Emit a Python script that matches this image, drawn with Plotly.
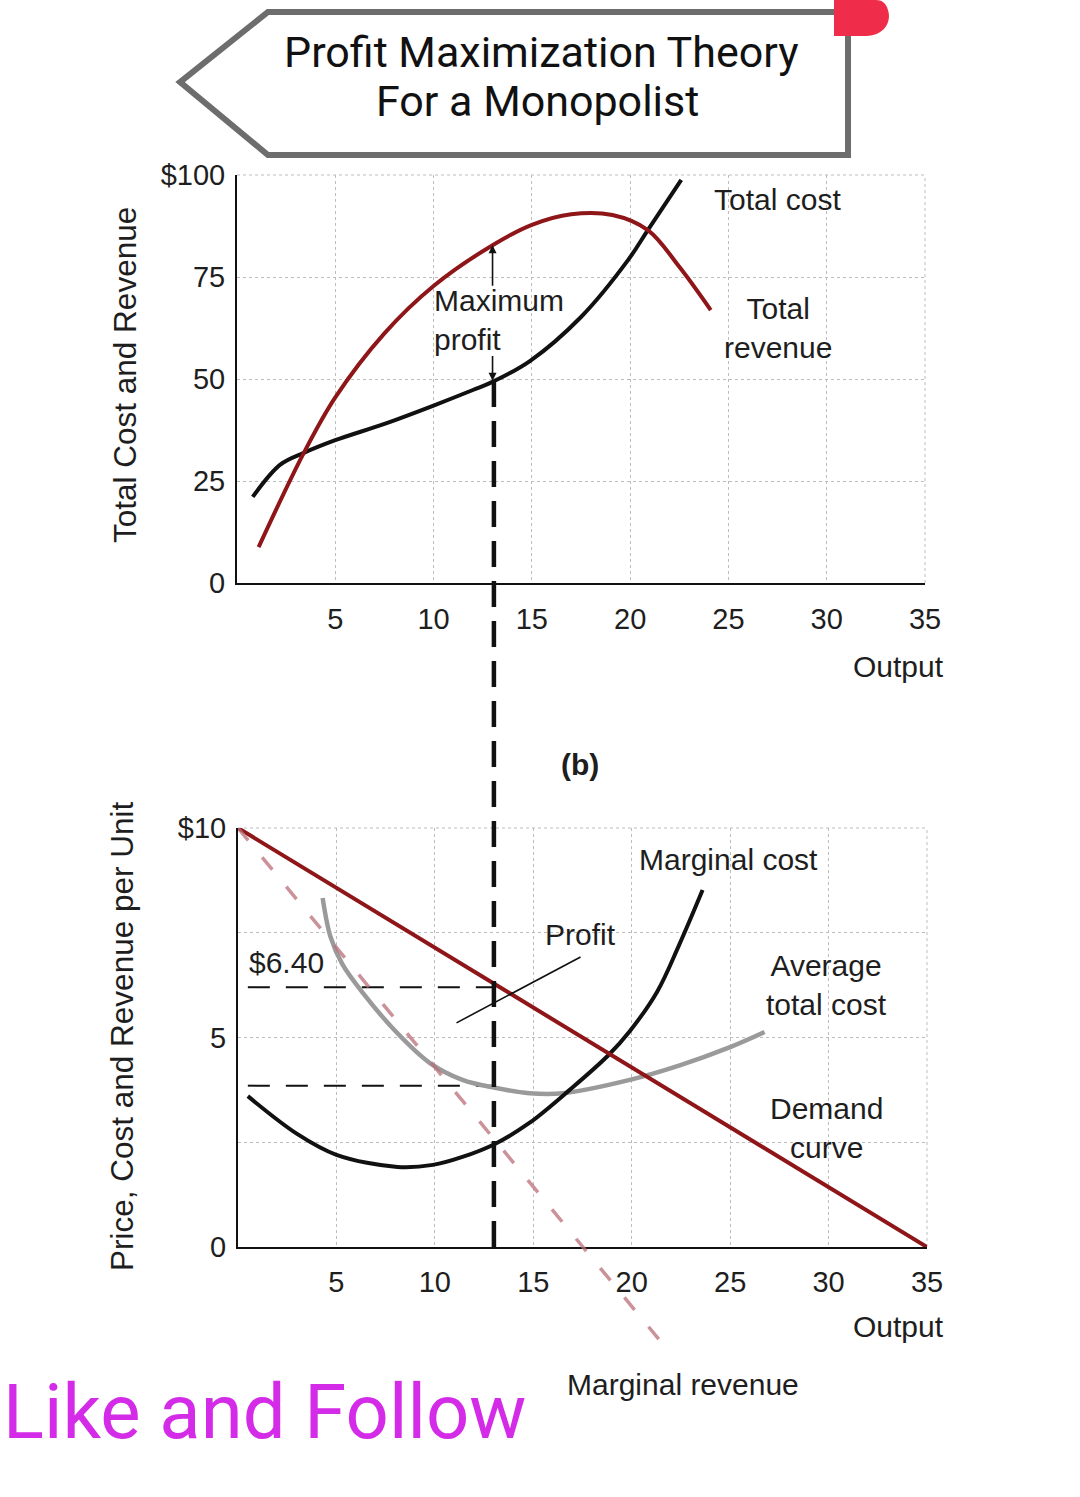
import plotly.graph_objects as go

# ---- data ----
# top panel: total cost / total revenue
tc_x = [0.8, 2.2, 3.4, 5.0, 7.5, 10.0, 12.0, 13.0, 14.9, 17.5, 19.9, 20.9, 22.6]
tc_y = [21.1, 29.0, 31.9, 35.0, 39.0, 43.5, 47.3, 49.3, 54.4, 65.2, 79.2, 86.5, 98.8]
tr_x = [1.1, 3.4, 5.0, 7.5, 10.0, 13.0, 15.0, 17.0, 19.1, 20.9, 22.5, 24.1]
tr_y = [8.8, 31.9, 45.5, 61.2, 72.8, 82.8, 87.8, 90.4, 90.2, 86.5, 77.5, 66.9]

# bottom panel: per unit curves
demand_x = [0, 35]
demand_y = [10, 0]
mr_x = [0, 21.9]
mr_y = [10, -2.5]
atc_x = [4.3, 4.7, 5.3, 6.35, 8.1, 9.75, 11.4, 13.05, 14.8, 16.5, 19.9, 22.4, 25.0, 26.75]
atc_y = [8.33, 7.4, 6.75, 6.06, 5.1, 4.39, 3.99, 3.8, 3.67, 3.67, 3.99, 4.33, 4.77, 5.13]
mc_x = [0.5, 3.0, 5.0, 8.1, 9.9, 11.4, 13.05, 14.8, 16.85, 18.8, 19.9, 21.3, 22.4, 23.6]
mc_y = [3.6, 2.7, 2.2, 1.91, 1.96, 2.15, 2.46, 2.96, 3.75, 4.57, 5.15, 6.1, 7.2, 8.52]

q_best = 13          # profit maximizing output
tc_at_best = 49.3
tr_at_best = 82.8
price_best = 6.2     # "$6.40" level as drawn on the chart
atc_best = 3.85
profit_ptr_x = [11.1, 17.4]
profit_ptr_y = [5.35, 6.92]

top_xticks = [5, 10, 15, 20, 25, 30, 35]
top_yticks = [0, 25, 50, 75, 100]
top_ylabels = ["0", "25", "50", "75", "$100"]
bot_yticks = [0, 2.5, 5, 7.5, 10]
bot_ylabels = ["0", "", "5", "", "$10"]

W, H = 1080, 1497


def px(x):
    return x / W


def py(y):
    return 1 - y / H


top_dom_x = [px(237), px(925)]
top_dom_y = [py(583), py(175)]
bot_dom_x = [px(238), px(927)]
bot_dom_y = [py(1247), py(828)]
bot_h = bot_dom_y[1] - bot_dom_y[0]
top_h = top_dom_y[1] - top_dom_y[0]

RED = "#8e1518"
TXT = "#1e1e1e"
GRID = "#bdbdbd"
FONT = "Liberation Sans, Arial, sans-serif"

fig = go.Figure()

# top panel
fig.add_trace(go.Scatter(x=tc_x, y=tc_y, mode="lines", line=dict(color="#111", width=4, shape="spline"),
                         xaxis="x", yaxis="y", showlegend=False))
fig.add_trace(go.Scatter(x=tr_x, y=tr_y, mode="lines", line=dict(color=RED, width=4, shape="spline"),
                         xaxis="x", yaxis="y", showlegend=False))

# bottom panel
fig.add_trace(go.Scatter(x=[0.5, q_best], y=[price_best, price_best], mode="lines",
                         line=dict(color="#111", width=2, dash="22px,16px"), xaxis="x2", yaxis="y2", showlegend=False))
fig.add_trace(go.Scatter(x=[0.5, q_best], y=[atc_best, atc_best], mode="lines",
                         line=dict(color="#111", width=2, dash="22px,16px"), xaxis="x2", yaxis="y2", showlegend=False))
fig.add_trace(go.Scatter(x=atc_x, y=atc_y, mode="lines", line=dict(color="#9a9a9a", width=4.5, shape="spline"),
                         xaxis="x2", yaxis="y2", showlegend=False))
fig.add_trace(go.Scatter(x=mc_x, y=mc_y, mode="lines", line=dict(color="#111", width=4, shape="spline"),
                         xaxis="x2", yaxis="y2", showlegend=False))
fig.add_trace(go.Scatter(x=demand_x, y=demand_y, mode="lines", line=dict(color=RED, width=4),
                         xaxis="x2", yaxis="y2", showlegend=False))
fig.add_trace(go.Scatter(x=profit_ptr_x, y=profit_ptr_y, mode="lines", line=dict(color="#111", width=1.6),
                         xaxis="x2", yaxis="y2", showlegend=False))

# marginal revenue runs below the axis, so it sits on a hidden axis pair reaching lower
mr_dom_y = [bot_dom_y[0] + (-3) / 10 * bot_h, bot_dom_y[1]]
fig.add_trace(go.Scatter(x=mr_x, y=mr_y, mode="lines",
                         line=dict(color="rgba(185,110,120,0.75)", width=3.5, dash="16px,22px"),
                         xaxis="x3", yaxis="y3", showlegend=False))

axis_font = dict(family=FONT, size=29, color=TXT)
common = dict(showline=True, linecolor="#111", linewidth=2, mirror=False, zeroline=False,
              showgrid=True, gridcolor=GRID, gridwidth=1, griddash="dot",
              ticks="", tickfont=axis_font, fixedrange=True, automargin=False)

fig.update_layout(
    width=W, height=H,
    margin=dict(l=0, r=0, t=0, b=0, pad=0, autoexpand=False),
    paper_bgcolor="white", plot_bgcolor="rgba(0,0,0,0)",
    xaxis=dict(domain=top_dom_x, anchor="y", range=[0, 35], tickvals=top_xticks,
               ticklabelstandoff=9, **common),
    yaxis=dict(domain=top_dom_y, anchor="x", range=[0, 100], tickvals=top_yticks, ticktext=top_ylabels,
               ticklabelstandoff=4, **common),
    xaxis2=dict(domain=bot_dom_x, anchor="y2", range=[0, 35], tickvals=top_xticks,
                ticklabelstandoff=8, **common),
    yaxis2=dict(domain=bot_dom_y, anchor="x2", range=[0, 10], tickvals=bot_yticks, ticktext=bot_ylabels,
                ticklabelstandoff=4, **common),
    xaxis3=dict(domain=bot_dom_x, anchor="y3", range=[0, 35], visible=False, fixedrange=True, automargin=False),
    yaxis3=dict(domain=mr_dom_y, anchor="x3", range=[-3, 10], visible=False, fixedrange=True, automargin=False),
)

# light frame on the top and right edges of both panels
for xa, ya in (("x", "y"), ("x2", "y2")):
    fig.add_shape(type="line", xref=f"{xa} domain", yref=f"{ya} domain", x0=0, x1=1, y0=1, y1=1,
                  line=dict(color=GRID, width=1, dash="dot"), layer="below")
    fig.add_shape(type="line", xref=f"{xa} domain", yref=f"{ya} domain", x0=1, x1=1, y0=0, y1=1,
                  line=dict(color=GRID, width=1, dash="dot"), layer="below")

# ---- title box ----
box = [(180, 82), (268, 12), (848, 12), (848, 155), (268, 155)]
path = "M " + " L ".join(f"{px(a):.4f},{py(b):.4f}" for a, b in box) + " Z"
fig.add_shape(type="path", path=path, xref="paper", yref="paper",
              line=dict(color="#6d6d6d", width=6), fillcolor="white", layer="below")
heart = (f"M {px(834):.4f},{py(0):.4f} L {px(834):.4f},{py(36):.4f} L {px(866):.4f},{py(36):.4f} "
         f"C {px(884):.4f},{py(36):.4f} {px(892):.4f},{py(22):.4f} {px(888):.4f},{py(10):.4f} "
         f"C {px(886):.4f},{py(3):.4f} {px(882):.4f},{py(0):.4f} {px(876):.4f},{py(0):.4f} Z")
fig.add_shape(type="path", path=heart, xref="paper", yref="paper",
              line=dict(color="#ef2d4b", width=0), fillcolor="#ef2d4b")

# vertical dashed line linking both panels at the best output
fig.add_shape(type="line", xref="x2", yref="paper", x0=q_best, x1=q_best,
              y0=bot_dom_y[0], y1=top_dom_y[0] + tc_at_best / 100 * top_h,
              line=dict(color="#111", width=4.5, dash="26px,14px"))


# ---- text ----
def label(text, x, y, xref, yref, size=30, family=FONT, color=TXT, **kw):
    fig.add_annotation(text=text, x=x, y=y, xref=xref, yref=yref, showarrow=False,
                       xanchor=kw.pop("xanchor", "center"), yanchor="middle",
                       font=dict(family=family, size=size, color=color), **kw)


label("Profit Maximization Theory", px(541), py(52), "paper", "paper", size=43, family="Roboto", color="#111")
label("For a Monopolist", px(537), py(101), "paper", "paper", size=43, family="Roboto", color="#111")

label("Total Cost and Revenue", px(125), py(375), "paper", "paper", size=31.5, textangle=-90)
label("Price, Cost and Revenue per Unit", px(122), py(1037), "paper", "paper", size=31.5, textangle=-90)

label("Total cost", 27.5, 93.9, "x", "y")
label("Total<br>revenue", 27.5, 62.5, "x", "y")
label("Maximum<br>profit", 9.9, 64.5, "x", "y", xanchor="left", align="left")

fig.add_annotation(x=q_best, y=tr_at_best, ax=q_best, ay=72.5, xref="x", yref="y", axref="x", ayref="y",
                   showarrow=True, arrowhead=2, arrowsize=1, arrowwidth=1.6, arrowcolor="#111", text="")
fig.add_annotation(x=q_best, y=tc_at_best + 0.3, ax=q_best, ay=56, xref="x", yref="y", axref="x", ayref="y",
                   showarrow=True, arrowhead=2, arrowsize=1, arrowwidth=1.6, arrowcolor="#111", text="")

label("Marginal cost", 24.9, 9.24, "x2", "y2")
label("Profit", 17.4, 7.45, "x2", "y2")
label("Average<br>total cost", 29.9, 6.25, "x2", "y2")
label("Demand<br>curve", 29.9, 2.84, "x2", "y2")
label("$6.40", 2.44, 6.78, "x2", "y2")

# labels lying outside the axis ranges go on the page itself
label("Output", px(898), py(666), "paper", "paper")
label("<b>(b)</b>", px(580), py(765), "paper", "paper")
label("Output", px(898), py(1326), "paper", "paper")
label("Marginal revenue", px(683), py(1384), "paper", "paper")

label("Like and Follow", 0.001, py(1412), "paper", "paper", size=76, family="Roboto", color="#d42be8",
      xanchor="left")

# pin the figure to the page corner so the photo is taken at 1:1
pin = ("document.body.style.margin='0';"
       "var gd=document.getElementById('{plot_id}');"
       "gd.style.position='absolute';gd.style.left='0px';gd.style.top='0px';")
fig.write_html("out.html", config={"displayModeBar": False}, post_script=pin)
